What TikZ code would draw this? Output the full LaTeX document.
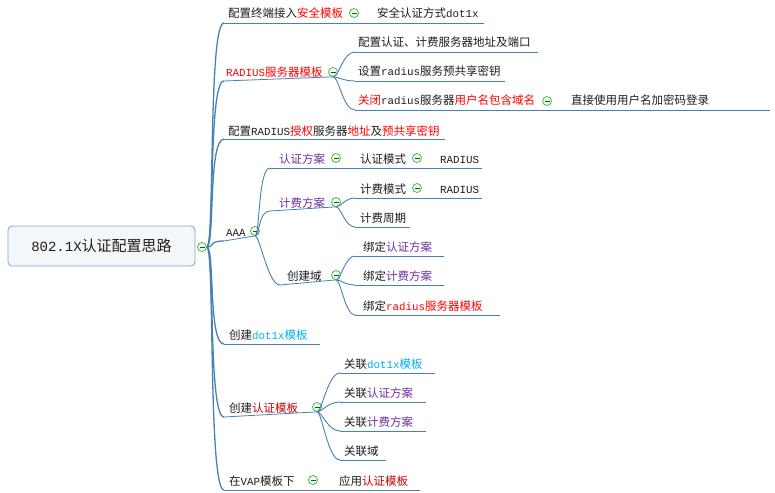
\documentclass[tikz,border=0pt]{standalone}
\usepackage{fontspec}
\setmainfont{Noto Sans CJK SC}
\newfontfamily\mono{Liberation Mono}
\newcommand\m[1]{{\mono\fontsize{10.8}{13}\selectfont #1}}
\definecolor{ln}{RGB}{70,130,180}
\definecolor{rd}{RGB}{255,0,0}
\definecolor{dr}{RGB}{200,0,0}
\definecolor{pu}{RGB}{112,48,160}
\definecolor{cy}{RGB}{0,176,240}
\definecolor{tx}{RGB}{30,30,30}
\tikzset{
 txt/.style={anchor=base west,inner sep=0pt,font=\fontsize{11.5}{13}\selectfont,text=tx},
 ul/.style={draw=ln,line width=0.8pt},
 br/.style={draw=ln,line width=0.9pt},
 mainbr/.style={draw=ln,line width=1.3pt},
 iconn/.style={circle,draw=green!50!black!70,fill=green!8,line width=0.7pt,minimum size=9pt,inner sep=0pt},
}
\newcommand\ico[2]{\node[iconn] (#1) at (#2) {};\draw[green!40!black,line width=0.8pt] ($(#1.center)+(-2.5,0)$) -- ($(#1.center)+(2.5,0)$);}
\usetikzlibrary{calc}
\begin{document}
\begin{tikzpicture}[x=1pt,y=-1pt]
\useasboundingbox[fill=white] (0,0) rectangle (775,492);
% root
\node[draw=ln!70,fill=ln!6,rounded corners=4pt,line width=0.8pt,minimum width=187pt,minimum height=40pt,font=\fontsize{15}{17}\selectfont,text=tx] (root) at (101.5,246) {{\mono\fontsize{14}{17}\selectfont 802.1X}认证配置思路};
\ico{ri}{202,247}
% main branch underline starts
\foreach \n/\y in {a/23,b/81,c/139,d/241,e/344,f/417,g/490}{\coordinate (s\n) at (224,\y);}
\foreach \n in {a,b,c,d,e,f,g}{\draw[mainbr] (ri.east) .. controls +(8,0) and ($(s\n)+(-16,0)$) .. (s\n);}
% 1
\node[txt] (na) at (228,18) {配置终端接入\textcolor{rd}{安全模板}};
\ico{ia}{354,13}
\node[txt] (na2) at (377,18) {安全认证方式\m{dot1x}};
\draw[ul] (sa) -- (484,23);
% 2
\node[txt] (nb) at (226,77) {\textcolor{rd}{\m{RADIUS}服务器模板}};
\ico{ib}{333,72}
\draw[ul] (sb) -- (ib.south);
\foreach \n/\y/\x in {1/52/538,2/81/505,3/110/770}{\coordinate (sb\n) at (355,\y);\draw[br] (ib.south) .. controls +(6,0) and ($(sb\n)+(-12,0)$) .. (sb\n);\draw[ul] (sb\n) -- (\x,\y);}
\node[txt] (nb1) at (358,47) {配置认证、计费服务器地址及端口};
\node[txt] (nb2) at (358,76) {设置\m{radius}服务预共享密钥};
\node[txt] (nb3) at (358,105) {\textcolor{rd}{关闭}\m{radius}服务器\textcolor{rd}{用户名包含域名}};
\ico{ib3}{547,101}
\node[txt] (nb4) at (571,105) {直接使用用户名加密码登录};
% 3
\node[txt] (nc) at (228,135) {配置\m{RADIUS}\textcolor{rd}{授权}服务器\textcolor{rd}{地址}及\textcolor{rd}{预共享密钥}};
\draw[ul] (sc) -- (445,139);
% 4 AAA
\node[txt] (nd) at (226,236) {\m{AAA}};
\ico{id}{255,231}
\draw[ul] (sd) -- (id.south);
\coordinate (sd1) at (270,168);\coordinate (sd2) at (270,211);\coordinate (sd3) at (280,285);
\foreach \n in {1,2,3}{\draw[br] (id.south) .. controls +(5,0) and ($(sd\n)+(-12,0)$) .. (sd\n);}
\node[txt] (nd1) at (279,163) {\textcolor{pu}{认证方案}};
\ico{id1}{336,158}
\node[txt] (nd11) at (360,163) {认证模式};
\ico{id11}{417,158}
\node[txt] (nd12) at (440,163) {\m{RADIUS}};
\draw[ul] (sd1) -- (482,168);
\node[txt] (nd2) at (279,207) {\textcolor{pu}{计费方案}};
\ico{id2}{336,202}
\draw[ul] (sd2) -- (id2.south);
\coordinate (sd21) at (355,198);\coordinate (sd22) at (355,227);
\foreach \n in {21,22}{\draw[br] (id2.south) .. controls +(5,0) and ($(sd\n)+(-10,0)$) .. (sd\n);}
\node[txt] (nd21) at (360,193) {计费模式};
\ico{id21}{417,188}
\node[txt] (nd22) at (440,193) {\m{RADIUS}};
\draw[ul] (sd21) -- (482,198);
\node[txt] (nd23) at (360,222) {计费周期};
\draw[ul] (sd22) -- (410,227);
\node[txt] (nd3) at (287,280) {创建域};
\ico{id3}{336,275}
\draw[ul] (sd3) -- (id3.south);
\foreach \n/\y/\x in {31/256/444,32/285/444,33/315/500}{\coordinate (sd\n) at (355,\y);\draw[br] (id3.south) .. controls +(5,0) and ($(sd\n)+(-10,0)$) .. (sd\n);\draw[ul] (sd\n) -- (\x,\y);}
\node[txt] (nd31) at (363,251) {绑定\textcolor{pu}{认证方案}};
\node[txt] (nd32) at (363,280) {绑定\textcolor{pu}{计费方案}};
\node[txt] (nd33) at (363,310) {绑定\textcolor{rd}{\m{radius}服务器模板}};
% 5
\node[txt] (ne) at (229,339) {创建\textcolor{cy}{\m{dot1x}模板}};
\draw[ul] (se) -- (320,344);
% 6
\node[txt] (nf) at (229,412) {创建\textcolor{dr}{认证模板}};
\ico{if}{317,407}
\draw[ul] (sf) -- (if.south);
\foreach \n/\y/\x in {1/373/435,2/402/426,3/431/426,4/460/386}{\coordinate (sf\n) at (340,\y);\draw[br] (if.south) .. controls +(5,0) and ($(sf\n)+(-12,0)$) .. (sf\n);\draw[ul] (sf\n) -- (\x,\y);}
\node[txt] (nf1) at (344,368) {关联\textcolor{cy}{\m{dot1x}模板}};
\node[txt] (nf2) at (344,397) {关联\textcolor{pu}{认证方案}};
\node[txt] (nf3) at (344,426) {关联\textcolor{pu}{计费方案}};
\node[txt] (nf4) at (344,455) {关联域};
% 7
\node[txt] (ng) at (229,485) {在\m{VAP}模板下};
\ico{ig}{313,480}
\node[txt] (ng2) at (339,485) {应用\textcolor{dr}{认证模板}};
\draw[ul] (sg) -- (420,490);
\end{tikzpicture}
\end{document}
